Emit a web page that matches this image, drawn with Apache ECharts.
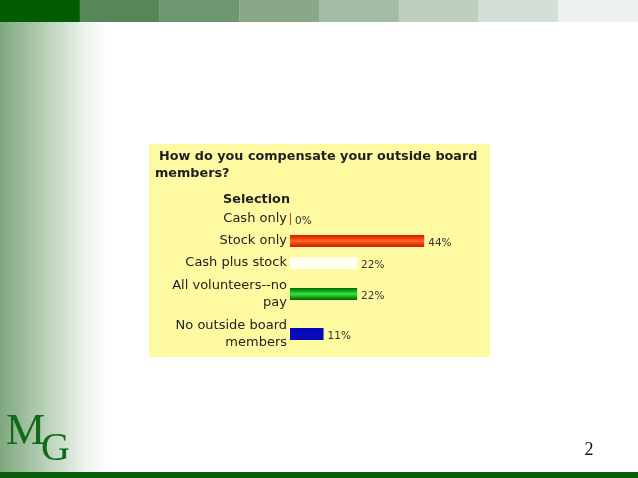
<!DOCTYPE html>
<html>
<head>
<meta charset="utf-8">
<script src="https://cdn.jsdelivr.net/npm/echarts@6/dist/echarts.min.js"></script>
<style>html,body{margin:0;padding:0;background:#fff;}#c{width:638px;height:478px;}</style>
</head>
<body>
<div id="c"></div>
<script>
// ---- data ----
const titleLine1 = 'How do you compensate your outside board';
const titleLine2 = 'members?';
const headerText = 'Selection';
const categories = ['Cash only', 'Stock only', 'Cash plus stock', 'All volunteers--no\npay', 'No outside board\nmembers'];
const values = [0, 44, 22, 22, 11];
const pageNumber = '2';

// ---- styles ----
const FONT = 'DejaVu Sans';
function vgrad(stops) {
  return new echarts.graphic.LinearGradient(0, 0, 0, 1, stops.map((c, i) => ({ offset: i / (stops.length - 1), color: c })));
}
const barColors = [
  '#c83a1a',
  vgrad(['#c42400', '#ee3608', '#ff6a2a', '#ee3608', '#c22200']),
  '#fffff2',
  vgrad(['#006a00', '#10a810', '#44dd44', '#10a810', '#005c00']),
  vgrad(['#0606a8', '#0a0ac0', '#0a0ac0', '#0606a8'])
];
const bandColors = ['#035b03', '#578657', '#6f976f', '#89a889', '#a3bca3', '#bdcfbd', '#d5dfd5', '#eef2ee'];

const chart = echarts.init(document.getElementById('c'), null, { renderer: 'canvas' });

// per-row grids; row height follows the number of label lines (like a table)
const grids = [], xAxes = [], yAxes = [], series = [];
let rowTop = 208;
categories.forEach((cat, i) => {
  const lines = cat.split('\n').length;
  const h = 22 + 18 * (lines - 1);
  grids.push({ left: 290, top: rowTop, width: 305, height: h });
  rowTop += h;
  xAxes.push({ gridIndex: i, type: 'value', min: 0, max: 100, show: false });
  yAxes.push({
    gridIndex: i, type: 'category', data: [cat],
    axisLine: { show: false }, axisTick: { show: false }, splitLine: { show: false },
    axisLabel: { fontSize: 13, fontFamily: FONT, color: '#222', lineHeight: 17.5, margin: 3 }
  });
  series.push({
    type: 'bar', xAxisIndex: i, yAxisIndex: i, data: [values[i]],
    barWidth: 12, barMinHeight: 1,
    itemStyle: { color: barColors[i] },
    label: { show: true, position: 'right', distance: 4, formatter: '{c}%', fontSize: 10.5, fontFamily: FONT, color: '#333', offset: [0, 2] }
  });
});

const bandGraphics = bandColors.map((c, i) => ({
  type: 'rect', shape: { x: i * 79.75, y: 0, width: 80, height: 22 }, style: { fill: c }, silent: true
}));

const titleStyle = { fontSize: 12.8, fontWeight: 'bold', fontFamily: FONT, color: '#1e1e1e', lineHeight: 17 };

const option = {
  animation: false,
  backgroundColor: '#ffffff',
  title: [
    { text: titleLine1, left: 159, top: 148.5, padding: 0, textStyle: titleStyle },
    { text: titleLine2, left: 155, top: 165.5, padding: 0, textStyle: titleStyle },
    { text: headerText, right: 348, top: 191.5, padding: 0, textStyle: titleStyle }
  ],
  graphic: [
    { type: 'rect', z: -10, shape: { x: 0, y: 22, width: 108, height: 450 },
      style: { fill: new echarts.graphic.LinearGradient(0, 0, 1, 0, [
        { offset: 0, color: '#7fa87f' }, { offset: 0.45, color: '#bcd3bc' }, { offset: 0.8, color: '#eef4ee' }, { offset: 1, color: '#ffffff' }]) }, silent: true },
    ...bandGraphics,
    { type: 'rect', shape: { x: 0, y: 472, width: 638, height: 6 }, style: { fill: '#0b5e0b' }, silent: true },
    { type: 'rect', z: -5, shape: { x: 149, y: 144, width: 341, height: 213 }, style: { fill: '#fefaa2' }, silent: true },
    { type: 'text', x: 6, y: 454, style: { text: 'M', fontSize: 44, fontFamily: 'Liberation Serif', fill: '#12691a', textVerticalAlign: 'bottom' }, silent: true },
    { type: 'text', x: 41, y: 469, style: { text: 'G', fontSize: 40, fontFamily: 'Liberation Serif', fill: '#12691a', textVerticalAlign: 'bottom' }, silent: true },
    { type: 'text', x: 589, y: 450, style: { text: pageNumber, fontSize: 18, fontFamily: 'Liberation Serif', fill: '#111', textAlign: 'center', textVerticalAlign: 'middle' }, silent: true }
  ],
  grid: grids,
  xAxis: xAxes,
  yAxis: yAxes,
  series: series
};
chart.setOption(option);
</script>
</body>
</html>
